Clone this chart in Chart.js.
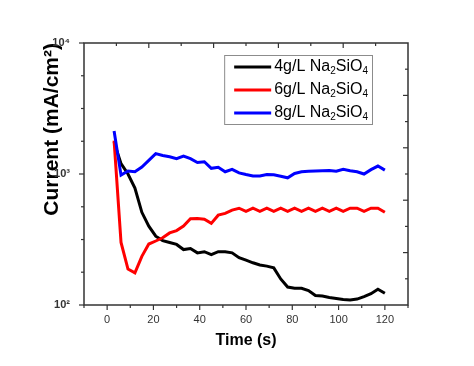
<!DOCTYPE html>
<html>
<head>
<meta charset="utf-8">
<script src="https://cdn.jsdelivr.net/npm/chart.js@4/dist/chart.umd.min.js"></script>
<style>
  body { margin: 0; background: #fff; }
  canvas { display: block; }
</style>
</head>
<body>
<canvas id="currentChart" width="474" height="366"></canvas>
<script>
// Sampling times (s) and current density for each silicate concentration
const timeS = [3, 6, 9, 12, 15, 18, 21, 24, 27, 30, 33, 36, 39, 42, 45, 48, 51, 54, 57, 60,
               63, 66, 69, 72, 75, 78, 81, 84, 87, 90, 93, 96, 99, 102, 105, 108, 111, 114, 117, 120];
const current4 = [1750, 1200, 1000, 780, 510, 400, 335, 310, 300, 290, 265, 270, 250, 255, 242, 255, 255, 250, 230, 220,
                  210, 202, 198, 192, 158, 137, 134, 134, 129, 118, 117, 114, 112, 110, 109, 111, 116, 122, 132, 123];
const current6 = [1800, 300, 188, 176, 235, 292, 308, 326, 355, 370, 400, 455, 458, 452, 420, 485, 500, 530, 548, 518,
                  548, 518, 548, 518, 548, 518, 548, 518, 548, 518, 548, 518, 548, 518, 548, 548, 518, 548, 548, 510];
const current8 = [2130, 980, 1055, 1040, 1130, 1270, 1430, 1385, 1355, 1310, 1370, 1310, 1225, 1240, 1105, 1125, 1040, 1085, 1020, 990,
                  965, 965, 990, 985, 960, 935, 1010, 1040, 1050, 1055, 1060, 1065, 1050, 1085, 1060, 1040, 1000, 1080, 1150, 1070];
const seriesNames = ['4g/L Na₂SiO₄', '6g/L Na₂SiO₄', '8g/L Na₂SiO₄'];
const seriesColors = ['#000000', '#ff0000', '#0000ff'];

// Axis ticks
const xMajorTicks = [0, 20, 40, 60, 80, 100, 120];
const xMinorTicks = [-10, 10, 30, 50, 70, 90, 110, 130];
const yMajorTicks = [100, 1000, 10000];
const yTickLabels = ['10²', '10³', '10⁴'];
const yMinorTicks = [178, 316, 562, 1778, 3162, 5623];
const frameMajorTicks = [20, 40, 60, 80];
const frameMinorTicks = [10, 30, 50, 70, 90];

const FONT = '"Liberation Sans", Arial, sans-serif';

function points(values) {
    return timeS.map((t, i) => ({ x: t, y: values[i] }));
}

// Draw text where unicode subscript digits are drawn smaller and lowered
function drawRich(ctx, text, x, y, size) {
    const subs = '₀₁₂₃₄₅₆₇₈₉';
    for (const ch of text) {
        const k = subs.indexOf(ch);
        if (k >= 0) {
            ctx.font = Math.round(size * 0.65) + 'px ' + FONT;
            ctx.fillText(String(k), x, y + size * 0.28);
            x += ctx.measureText(String(k)).width;
        } else {
            ctx.font = size + 'px ' + FONT;
            ctx.fillText(ch, x, y);
            x += ctx.measureText(ch).width;
        }
    }
    return x;
}

function richWidth(ctx, text, size) {
    ctx.save();
    const end = drawRich({ set font(f) { ctx.font = f; }, fillText() {}, measureText: (s) => ctx.measureText(s) }, text, 0, 0, size);
    ctx.restore();
    return end;
}

// Frame with inward ticks on top/right and outward ticks on bottom/left
const framePlugin = {
    id: 'frame',
    afterDraw(chart) {
        const { ctx, chartArea: a, scales } = chart;
        ctx.save();
        ctx.strokeStyle = '#333';
        ctx.lineWidth = 1.5;
        ctx.strokeRect(a.left, a.top, a.right - a.left, a.bottom - a.top);
        ctx.lineWidth = 1.2;
        const line = (x1, y1, x2, y2) => {
            ctx.beginPath(); ctx.moveTo(x1, y1); ctx.lineTo(x2, y2); ctx.stroke();
        };
        xMajorTicks.forEach(v => { const p = scales.x.getPixelForValue(v); line(p, a.bottom, p, a.bottom + 5); });
        xMinorTicks.forEach(v => { const p = scales.x.getPixelForValue(v); line(p, a.bottom, p, a.bottom + 3); });
        yMajorTicks.forEach(v => { const p = scales.y.getPixelForValue(v); line(a.left - 5, p, a.left, p); });
        yMinorTicks.forEach(v => { const p = scales.y.getPixelForValue(v); line(a.left - 3, p, a.left, p); });
        frameMajorTicks.forEach(v => {
            const px = scales.xTop.getPixelForValue(v); line(px, a.top, px, a.top + 5);
            const py = scales.yRight.getPixelForValue(v); line(a.right - 5, py, a.right, py);
        });
        frameMinorTicks.forEach(v => {
            const px = scales.xTop.getPixelForValue(v); line(px, a.top, px, a.top + 3);
            const py = scales.yRight.getPixelForValue(v); line(a.right - 3, py, a.right, py);
        });
        ctx.restore();
    }
};

// Boxed legend inside the plot, top right
const legendPlugin = {
    id: 'boxLegend',
    afterDraw(chart) {
        const { ctx, chartArea: a } = chart;
        const size = 16, rowH = 23;
        ctx.save();
        const textW = Math.max(...seriesNames.map(n => richWidth(ctx, n, size)));
        const w = 10 + 37 + 3 + textW + 4;
        const right = a.right - 36, top = a.top + 12;
        const left = right - w;
        ctx.strokeStyle = '#8c8c8c';
        ctx.lineWidth = 1;
        ctx.strokeRect(left + 0.5, top + 0.5, w, rowH * 3);
        chart.data.datasets.forEach((ds, i) => {
            const cy = top + 12 + i * rowH;
            ctx.strokeStyle = ds.borderColor;
            ctx.lineWidth = 3;
            ctx.beginPath(); ctx.moveTo(left + 10, cy); ctx.lineTo(left + 47, cy); ctx.stroke();
            ctx.fillStyle = '#000';
            ctx.textBaseline = 'middle';
            drawRich(ctx, ds.label, left + 50, cy, size);
        });
        ctx.restore();
    }
};

const ctx = document.getElementById('currentChart').getContext('2d');
new Chart(ctx, {
    type: 'line',
    data: {
        datasets: [current4, current6, current8].map((vals, i) => ({
            label: seriesNames[i],
            data: points(vals),
            borderColor: seriesColors[i],
            borderWidth: 3,
            pointRadius: 0,
            tension: 0,
            fill: false,
            order: 3 - i
        }))
    },
    options: {
        responsive: false,
        animation: false,
        layout: { padding: { left: 0, top: 43, right: 66, bottom: 0 } },
        plugins: {
            legend: { display: false },
            tooltip: { enabled: false }
        },
        scales: {
            x: {
                type: 'linear',
                min: -10,
                max: 130,
                afterFit: (scale) => { scale.height = 61; },
                afterBuildTicks: (scale) => { scale.ticks = xMajorTicks.map(v => ({ value: v })); },
                grid: { display: false },
                border: { display: false },
                ticks: {
                    autoSkip: false,
                    maxRotation: 0,
                    padding: 0,
                    color: '#333',
                    font: { family: FONT, size: 11 }
                },
                title: {
                    display: true,
                    text: 'Time (s)',
                    color: '#000',
                    font: { family: FONT, size: 16, weight: 'bold' },
                    padding: { top: 0, bottom: 16 }
                }
            },
            y: {
                type: 'logarithmic',
                min: 100,
                max: 10000,
                afterFit: (scale) => { scale.width = 84; },
                afterBuildTicks: (scale) => { scale.ticks = yMajorTicks.map(v => ({ value: v })); },
                grid: { display: false },
                border: { display: false },
                ticks: {
                    autoSkip: false,
                    padding: 6,
                    color: '#333',
                    font: { family: FONT, size: 11, weight: 'bold' },
                    callback: (v) => yTickLabels[yMajorTicks.indexOf(v)] ?? ''
                },
                title: {
                    display: true,
                    text: 'Current (mA/cm²)',
                    align: 'end',
                    color: '#000',
                    font: { family: FONT, size: 21, weight: 'bold' },
                    padding: { top: 40, bottom: 0 }
                }
            },
            xTop: { type: 'linear', position: 'top', min: 0, max: 100, display: false },
            yRight: { type: 'linear', position: 'right', min: 0, max: 100, display: false }
        }
    },
    plugins: [framePlugin, legendPlugin]
});
</script>
</body>
</html>
